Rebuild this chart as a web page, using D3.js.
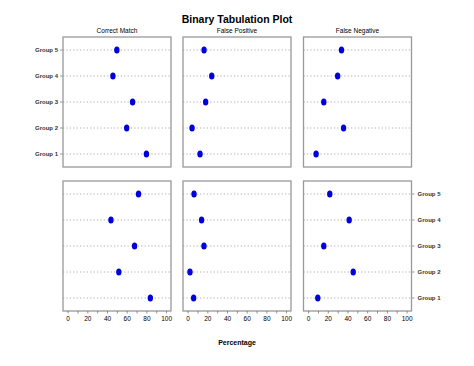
<!DOCTYPE html>
<html>
<head>
<meta charset="utf-8">
<script src="https://cdn.jsdelivr.net/npm/d3@7"></script>
<style>
  body { margin: 0; background: #fff; }
  text { font-family: "Liberation Sans", Arial, sans-serif; }
</style>
</head>
<body>
<svg id="canvas"></svg>
<script>
let groups = ['Group 1', 'Group 2', 'Group 3', 'Group 4', 'Group 5'];
let panelTitles = ['Correct Match', 'False Positive', 'False Negative'];
let xTicks = [0, 20, 40, 60, 80, 100];

// values listed Group 1 .. Group 5
let topCorrect = [80, 60, 66, 46, 50];
let topFalsePos = [12.6, 4.5, 18.3, 24.5, 16.7];
let topFalseNeg = [8.1, 36, 15.9, 30, 33.9];
let botCorrect = [84, 52, 68, 44, 72];
let botFalsePos = [6.1, 2.4, 16.6, 14.2, 6.5];
let botFalseNeg = [9.8, 45.8, 15.9, 41.7, 22];

let width = 474;
let height = 366;

let canvas = d3.select('#canvas');
canvas.attr('width', width);
canvas.attr('height', height);

let colLeft = [63, 183, 303.5];
let panelW = 108;
let rowTop = [37, 181];
let panelH = 130;

let xScale = d3.scaleLinear().domain([-4.7, 105]).range([0, panelW]);
let yScale = d3.scaleBand().domain(groups).range([panelH, 0]);

let rows = [
  [topCorrect, topFalsePos, topFalseNeg],
  [botCorrect, botFalsePos, botFalseNeg]
];

canvas.append('text')
  .attr('x', 237).attr('y', 22.5)
  .attr('text-anchor', 'middle')
  .attr('font-size', 10.5).attr('font-weight', 'bold')
  .text('Binary Tabulation Plot');

rows.forEach((row, r) => {
  row.forEach((vals, c) => {
    let g = canvas.append('g')
      .attr('transform', 'translate(' + colLeft[c] + ',' + rowTop[r] + ')');

    if (r === 0) {
      g.append('text')
        .attr('x', panelW / 2).attr('y', -4)
        .attr('text-anchor', 'middle')
        .attr('font-size', 6.5)
        .text(panelTitles[c]);
    }

    g.selectAll('line.grid')
      .data(groups)
      .enter()
      .append('line')
      .attr('class', 'grid')
      .attr('x1', 0).attr('x2', panelW)
      .attr('y1', d => yScale(d) + yScale.bandwidth() / 2)
      .attr('y2', d => yScale(d) + yScale.bandwidth() / 2)
      .attr('stroke', '#999')
      .attr('stroke-width', 0.8)
      .attr('stroke-dasharray', '1.2,2.2');

    g.append('rect')
      .attr('width', panelW).attr('height', panelH)
      .attr('fill', 'none')
      .attr('stroke', '#999')
      .attr('stroke-width', 1.3);

    g.selectAll('ellipse')
      .data(vals)
      .enter()
      .append('ellipse')
      .attr('cx', d => xScale(d))
      .attr('cy', (d, i) => yScale(groups[i]) + yScale.bandwidth() / 2)
      .attr('rx', 2.7).attr('ry', 3.6)
      .attr('fill', '#0000dd');

    if (r === 1) {
      let xAxis = d3.axisBottom(xScale)
        .tickValues(d3.range(0, 101, 10))
        .tickSize(2.5)
        .tickFormat(d => xTicks.includes(d) ? d : '');
      let ax = g.append('g')
        .attr('transform', 'translate(0,' + panelH + ')')
        .call(xAxis);
      ax.select('.domain').remove();
      ax.selectAll('line').attr('stroke', '#666').attr('stroke-width', 0.7);
      ax.selectAll('text')
        .attr('font-size', 6.5)
        .attr('fill', '#000')
        .attr('y', 5);
    }

    if (r === 0 && c === 0) {
      let yAxis = d3.axisLeft(yScale).tickSize(3).tickPadding(2);
      let ay = g.append('g').call(yAxis);
      ay.select('.domain').remove();
      ay.selectAll('line').attr('stroke', '#999');
      ay.selectAll('text').attr('font-size', 6).attr('font-weight', 'bold').attr('fill', '#333');
    }
    if (r === 1 && c === 2) {
      let yAxis = d3.axisRight(yScale).tickSize(3).tickPadding(3);
      let ay = g.append('g')
        .attr('transform', 'translate(' + panelW + ',0)')
        .call(yAxis);
      ay.select('.domain').remove();
      ay.selectAll('line').attr('stroke', '#999');
      ay.selectAll('text').attr('font-size', 6).attr('font-weight', 'bold').attr('fill', '#333');
    }
  });
});

canvas.append('text')
  .attr('x', 237).attr('y', 345)
  .attr('text-anchor', 'middle')
  .attr('font-size', 7).attr('font-weight', 'bold')
  .text('Percentage');
</script>
</body>
</html>
